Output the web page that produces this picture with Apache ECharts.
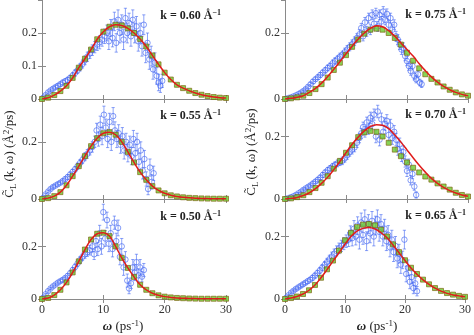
<!DOCTYPE html>
<html><head><meta charset="utf-8">
<script src="https://cdn.jsdelivr.net/npm/echarts@6/dist/echarts.min.js"></script>
<style>html,body{margin:0;padding:0;background:#fff}#c{width:474px;height:335px}</style>
</head><body><div id="c"></div>
<script>
// ---- data ----
const omegaGrid = [0,1,2,3,4,5,6,7,8,9,10,11,12,13,14,15,16,17,18,19,20,21,22,23,24,25,26,27,28,29,30];
const xTicks = [0,10,20,30];
const kLabels = ['0.60','0.55','0.50','0.75','0.70','0.65'];

// model values (squares) at omegaGrid
const fit60 = [0,0.004,0.012,0.024,0.04,0.064,0.095,0.122,0.15,0.181,0.204,0.219,0.225,0.223,0.214,0.2,0.182,0.159,0.132,0.105,0.08,0.059,0.043,0.033,0.025,0.018,0.013,0.009,0.006,0.004,0.003];
const fit55 = [0,0.003,0.01,0.024,0.048,0.08,0.115,0.15,0.185,0.213,0.23,0.234,0.225,0.2,0.165,0.128,0.094,0.067,0.045,0.03,0.02,0.013,0.009,0.006,0.004,0.003,0.002,0.0015,0.001,0.001,0.001];
const fit50 = [0,0.004,0.015,0.035,0.063,0.101,0.143,0.188,0.226,0.248,0.252,0.239,0.2,0.156,0.118,0.084,0.054,0.035,0.022,0.014,0.009,0.006,0.004,0.003,0.002,0.0015,0.001,0.001,0.001,0.001,0.001];
const green75 = [0,0.002,0.005,0.01,0.018,0.03,0.045,0.065,0.088,0.11,0.133,0.158,0.18,0.198,0.21,0.213,0.21,0.2,0.185,0.165,0.14,0.116,0.093,0.075,0.061,0.05,0.038,0.028,0.02,0.014,0.01];
const green70 = [0,0.002,0.006,0.012,0.022,0.035,0.052,0.073,0.097,0.122,0.148,0.172,0.198,0.213,0.218,0.215,0.2,0.18,0.158,0.137,0.117,0.1,0.085,0.072,0.062,0.05,0.04,0.03,0.02,0.013,0.008];
const green65 = [0,0.003,0.008,0.016,0.028,0.045,0.068,0.095,0.123,0.155,0.188,0.212,0.23,0.238,0.24,0.236,0.222,0.2,0.175,0.15,0.124,0.1,0.08,0.062,0.047,0.035,0.026,0.019,0.014,0.01,0.007];
// red curves (right panels)
const red75 = [0,0.002,0.005,0.01,0.02,0.032,0.048,0.068,0.09,0.113,0.137,0.16,0.182,0.2,0.214,0.222,0.219,0.207,0.19,0.17,0.15,0.13,0.107,0.086,0.067,0.051,0.038,0.028,0.02,0.014,0.01];
const red70 = [0,0.002,0.005,0.011,0.02,0.033,0.05,0.07,0.094,0.12,0.148,0.175,0.198,0.218,0.232,0.238,0.236,0.225,0.205,0.182,0.157,0.132,0.108,0.086,0.066,0.05,0.037,0.027,0.019,0.013,0.009];
const red65 = [0,0.003,0.008,0.016,0.028,0.045,0.068,0.094,0.121,0.148,0.175,0.2,0.217,0.226,0.229,0.224,0.212,0.196,0.173,0.148,0.123,0.099,0.079,0.061,0.047,0.035,0.025,0.018,0.013,0.01,0.007];

// measured points [omega, value, error]
const blue60 = [[0.2,0.004,0.002],[0.6,0.012,0.003],[1.0,0.02,0.004],[1.4,0.026,0.004],[1.8,0.031,0.005],[2.2,0.036,0.005],[2.6,0.04,0.006],[3.0,0.045,0.006],[3.4,0.05,0.007],[3.8,0.054,0.007],[4.2,0.058,0.008],[4.6,0.064,0.008],[5.0,0.071,0.009],[5.4,0.079,0.01],[5.8,0.087,0.01],[6.2,0.096,0.011],[6.6,0.106,0.012],[7.0,0.117,0.013],[7.4,0.128,0.014],[7.8,0.138,0.015],[8.2,0.148,0.016],[8.6,0.157,0.017],[9.0,0.165,0.018],[9.4,0.172,0.02],[9.8,0.18,0.02],[10.2,0.19,0.022],[10.6,0.2,0.024],[10.9,0.175,0.025],[11.2,0.215,0.026],[11.5,0.185,0.027],[11.8,0.235,0.028],[12.1,0.17,0.028],[12.4,0.24,0.03],[12.7,0.2,0.03],[13.0,0.225,0.03],[13.3,0.18,0.03],[13.6,0.245,0.03],[13.9,0.2,0.03],[14.2,0.23,0.03],[14.5,0.19,0.03],[14.8,0.24,0.03],[15.1,0.2,0.03],[15.4,0.22,0.03],[15.7,0.175,0.03],[16.0,0.2,0.03],[16.3,0.16,0.03],[16.6,0.225,0.03],[16.9,0.14,0.03],[17.2,0.17,0.03],[17.5,0.12,0.03],[17.8,0.13,0.03],[18.1,0.09,0.03],[18.4,0.11,0.03],[18.7,0.07,0.025],[19.0,0.05,0.025],[19.3,0.04,0.02],[19.6,0.055,0.02]];
const blue55 = [[0.2,0.004,0.002],[0.6,0.016,0.003],[1.0,0.026,0.004],[1.4,0.035,0.004],[1.8,0.042,0.005],[2.2,0.047,0.005],[2.6,0.052,0.006],[3.0,0.057,0.006],[3.4,0.063,0.007],[3.8,0.07,0.007],[4.2,0.077,0.008],[4.6,0.086,0.008],[5.0,0.095,0.009],[5.4,0.104,0.01],[5.8,0.115,0.011],[6.2,0.126,0.012],[6.6,0.137,0.013],[7.0,0.148,0.014],[7.4,0.158,0.015],[7.8,0.17,0.016],[8.2,0.182,0.018],[8.6,0.2,0.02],[8.9,0.24,0.025],[9.2,0.21,0.025],[9.5,0.26,0.03],[9.8,0.22,0.03],[10.1,0.295,0.03],[10.4,0.25,0.03],[10.7,0.21,0.03],[11.0,0.27,0.03],[11.3,0.2,0.03],[11.6,0.29,0.03],[11.9,0.24,0.03],[12.2,0.21,0.03],[12.5,0.23,0.03],[12.8,0.19,0.03],[13.1,0.22,0.03],[13.4,0.17,0.03],[13.7,0.2,0.03],[14.0,0.16,0.03],[14.3,0.19,0.03],[14.6,0.15,0.03],[14.9,0.21,0.03],[15.2,0.16,0.03],[15.5,0.2,0.03],[15.8,0.13,0.03],[16.1,0.17,0.03],[16.4,0.1,0.03],[16.7,0.14,0.03],[17.0,0.07,0.025],[17.3,0.035,0.02],[17.6,0.11,0.03],[17.9,0.06,0.025],[18.2,0.09,0.025]];
const blue50 = [[0.2,0.005,0.002],[0.6,0.018,0.003],[1.0,0.03,0.004],[1.4,0.04,0.004],[1.8,0.048,0.005],[2.2,0.055,0.005],[2.6,0.062,0.006],[3.0,0.068,0.006],[3.4,0.073,0.007],[3.8,0.08,0.007],[4.2,0.088,0.008],[4.6,0.098,0.009],[5.0,0.11,0.01],[5.4,0.122,0.011],[5.8,0.135,0.012],[6.2,0.148,0.013],[6.6,0.16,0.014],[7.0,0.17,0.015],[7.4,0.178,0.016],[7.8,0.185,0.018],[8.2,0.2,0.02],[8.5,0.17,0.02],[8.8,0.22,0.025],[9.1,0.19,0.025],[9.4,0.25,0.03],[9.7,0.2,0.03],[10.0,0.33,0.03],[10.3,0.23,0.03],[10.6,0.3,0.03],[10.9,0.21,0.03],[11.2,0.25,0.03],[11.5,0.19,0.03],[11.8,0.29,0.025],[12.1,0.22,0.03],[12.4,0.27,0.03],[12.7,0.16,0.03],[13.0,0.2,0.03],[13.3,0.12,0.03],[13.6,0.15,0.03],[13.9,0.07,0.025],[14.2,0.04,0.02],[14.5,0.06,0.02],[14.8,0.12,0.03],[15.1,0.1,0.03],[15.4,0.14,0.03],[15.7,0.09,0.025],[16.0,0.12,0.03],[16.3,0.085,0.02],[16.6,0.11,0.025]];
const blue75 = [[0.2,0.001,0.001],[0.6,0.003,0.002],[1.0,0.005,0.002],[1.4,0.008,0.002],[1.8,0.011,0.003],[2.2,0.015,0.003],[2.6,0.019,0.003],[3.0,0.024,0.004],[3.4,0.03,0.004],[3.8,0.037,0.005],[4.2,0.045,0.005],[4.6,0.053,0.006],[5.0,0.06,0.006],[5.4,0.066,0.007],[5.8,0.073,0.007],[6.2,0.08,0.008],[6.6,0.087,0.008],[7.0,0.094,0.009],[7.4,0.1,0.009],[7.8,0.108,0.01],[8.2,0.115,0.01],[8.6,0.121,0.01],[9.0,0.128,0.011],[9.4,0.134,0.011],[9.8,0.142,0.012],[10.2,0.15,0.012],[10.6,0.158,0.012],[11.0,0.166,0.013],[11.4,0.175,0.013],[11.8,0.185,0.013],[12.2,0.196,0.014],[12.5,0.215,0.014],[12.8,0.19,0.014],[13.1,0.232,0.015],[13.4,0.205,0.015],[13.7,0.245,0.015],[14.0,0.21,0.015],[14.3,0.255,0.015],[14.6,0.228,0.015],[14.9,0.26,0.015],[15.2,0.22,0.015],[15.5,0.255,0.015],[15.8,0.235,0.015],[16.1,0.265,0.015],[16.4,0.24,0.015],[16.7,0.258,0.015],[17.0,0.225,0.015],[17.3,0.245,0.015],[17.6,0.21,0.015],[17.9,0.225,0.015],[18.2,0.19,0.015],[18.5,0.18,0.015],[18.8,0.165,0.015],[19.1,0.15,0.015],[19.4,0.155,0.015],[19.7,0.13,0.014],[20.0,0.115,0.014],[20.3,0.1,0.013],[20.6,0.085,0.013],[20.9,0.1,0.012],[21.2,0.07,0.012],[21.5,0.06,0.011],[21.8,0.075,0.011],[22.1,0.05,0.01],[22.4,0.045,0.01]];
const blue70 = [[0.2,0.001,0.001],[0.6,0.003,0.002],[1.0,0.006,0.002],[1.4,0.009,0.002],[1.8,0.013,0.003],[2.2,0.018,0.003],[2.6,0.023,0.003],[3.0,0.029,0.004],[3.4,0.034,0.004],[3.8,0.039,0.005],[4.2,0.044,0.005],[4.6,0.05,0.006],[5.0,0.056,0.006],[5.4,0.062,0.007],[5.8,0.069,0.007],[6.2,0.077,0.008],[6.6,0.085,0.008],[7.0,0.092,0.009],[7.4,0.098,0.009],[7.8,0.104,0.01],[8.2,0.109,0.01],[8.6,0.114,0.011],[9.0,0.118,0.011],[9.4,0.122,0.012],[9.8,0.13,0.012],[10.2,0.14,0.013],[10.6,0.15,0.013],[11.0,0.158,0.014],[11.4,0.165,0.014],[11.8,0.18,0.015],[12.2,0.195,0.015],[12.5,0.21,0.016],[12.8,0.23,0.016],[13.1,0.215,0.017],[13.4,0.245,0.017],[13.7,0.225,0.018],[14.0,0.26,0.018],[14.3,0.24,0.018],[14.6,0.27,0.018],[14.9,0.2,0.02],[15.2,0.28,0.02],[15.5,0.19,0.02],[15.8,0.255,0.02],[16.1,0.215,0.02],[16.4,0.24,0.02],[16.7,0.25,0.02],[17.0,0.205,0.02],[17.3,0.235,0.02],[17.6,0.195,0.02],[17.9,0.215,0.02],[18.2,0.19,0.02],[18.5,0.16,0.02],[18.8,0.175,0.02],[19.1,0.14,0.02],[19.4,0.15,0.02],[19.7,0.12,0.018],[20.0,0.09,0.018],[20.3,0.11,0.018],[20.6,0.06,0.015],[20.9,0.08,0.015],[21.2,0.04,0.012],[21.5,0.013,0.01]];
const blue65 = [[0.2,0.004,0.002],[0.6,0.012,0.003],[1.0,0.02,0.003],[1.4,0.026,0.004],[1.8,0.032,0.004],[2.2,0.037,0.005],[2.6,0.042,0.005],[3.0,0.047,0.006],[3.4,0.052,0.006],[3.8,0.057,0.007],[4.2,0.062,0.007],[4.6,0.068,0.008],[5.0,0.075,0.008],[5.4,0.083,0.009],[5.8,0.091,0.01],[6.2,0.1,0.01],[6.6,0.109,0.011],[7.0,0.118,0.012],[7.4,0.127,0.013],[7.8,0.136,0.014],[8.2,0.145,0.015],[8.6,0.154,0.016],[9.0,0.162,0.017],[9.4,0.17,0.018],[9.8,0.177,0.019],[10.2,0.185,0.02],[10.6,0.19,0.022],[10.9,0.21,0.024],[11.2,0.195,0.025],[11.5,0.225,0.026],[11.8,0.2,0.027],[12.1,0.235,0.028],[12.4,0.19,0.03],[12.7,0.245,0.03],[13.0,0.205,0.03],[13.3,0.255,0.03],[13.6,0.185,0.03],[13.9,0.24,0.03],[14.2,0.21,0.03],[14.5,0.25,0.03],[14.8,0.2,0.03],[15.1,0.235,0.03],[15.4,0.255,0.03],[15.7,0.215,0.03],[16.0,0.24,0.03],[16.3,0.2,0.03],[16.6,0.225,0.03],[16.9,0.185,0.03],[17.2,0.205,0.03],[17.5,0.165,0.03],[17.8,0.19,0.03],[18.1,0.15,0.03],[18.4,0.17,0.03],[18.7,0.13,0.03],[19.0,0.145,0.03],[19.3,0.11,0.028],[19.6,0.125,0.028],[19.9,0.19,0.03],[20.2,0.08,0.025],[20.5,0.1,0.025],[20.8,0.055,0.022],[21.1,0.07,0.02],[21.4,0.035,0.018],[21.7,0.05,0.018],[22.0,0.025,0.015]];

// ---- layout / style ----
const FONT = '"Liberation Serif","DejaVu Serif",serif';
const BLUE = '#3f63f2', AXC = '#8a8a8a', TXT = '#333';
const panels = [
  {blue: blue60, sq: fit60, red: fit60, ymax: 0.3,  yint: 0.1, g:{left:42, top:0,   width:184, height:99},  lab:[221,16],  bottom:false},
  {blue: blue55, sq: fit55, red: fit55, ymax: 0.35, yint: 0.2, g:{left:42, top:99,  width:184, height:100}, lab:[221,116], bottom:false},
  {blue: blue50, sq: fit50, red: fit50, ymax: 0.38, yint: 0.2, g:{left:42, top:199, width:184, height:100}, lab:[221,217], bottom:true},
  {blue: blue75, sq: green75, red: red75, ymax: 0.3,  yint: 0.2, g:{left:285, top:0,   width:183, height:99},  lab:[466,15],  bottom:false},
  {blue: blue70, sq: green70, red: red70, ymax: 0.32, yint: 0.2, g:{left:285, top:99,  width:183, height:100}, lab:[466,115], bottom:false},
  {blue: blue65, sq: green65, red: red65, ymax: 0.32, yint: 0.2, g:{left:285, top:199, width:183, height:100}, lab:[466,216], bottom:true}
];

const grid = [], xAxis = [], yAxis = [], series = [], graphic = [];
const axLine = {show:true, lineStyle:{color:AXC, width:1}};
const tick = {show:true, inside:true, length:4, lineStyle:{color:AXC}};

function errRender(params, api) {
  const x = api.value(0), y = api.value(1), e = api.value(2);
  const t = api.coord([x, y + e]), b = api.coord([x, y - e]);
  const w = 1.6, st = {stroke: BLUE, lineWidth: 0.7, opacity: 0.85};
  return {type:'group', children:[
    {type:'line', shape:{x1:t[0], y1:t[1], x2:b[0], y2:b[1]}, style:st},
    {type:'line', shape:{x1:t[0]-w, y1:t[1], x2:t[0]+w, y2:t[1]}, style:st},
    {type:'line', shape:{x1:b[0]-w, y1:b[1], x2:b[0]+w, y2:b[1]}, style:st}
  ]};
}

panels.forEach((p, i) => {
  grid.push(Object.assign({containLabel:false}, p.g));
  xAxis.push({type:'value', gridIndex:i, min:xTicks[0], max:xTicks[xTicks.length-1], interval:xTicks[1]-xTicks[0], position:'bottom',
    axisLine:axLine, axisTick:tick, splitLine:{show:false},
    axisLabel:{show:p.bottom, margin:5, fontFamily:FONT, fontSize:12, color:TXT}});
  xAxis.push({type:'value', gridIndex:i, min:xTicks[0], max:xTicks[xTicks.length-1], interval:xTicks[1]-xTicks[0], position:'top',
    axisLine:axLine, axisTick:tick, splitLine:{show:false}, axisLabel:{show:false}});
  yAxis.push({type:'value', gridIndex:i, min:0, max:p.ymax, interval:p.yint, position:'left',
    axisLine:axLine, axisTick:tick, splitLine:{show:false},
    axisLabel:{show:true, showMaxLabel:false, margin:5, fontFamily:FONT, fontSize:12, color:TXT}});
  yAxis.push({type:'value', gridIndex:i, min:0, max:p.ymax, interval:p.yint, position:'right',
    axisLine:axLine, axisTick:tick, splitLine:{show:false}, axisLabel:{show:false}});
  const xi = 2*i, yi = 2*i;
  series.push({type:'custom', xAxisIndex:xi, yAxisIndex:yi, renderItem:errRender, data:p.blue, encode:{x:0, y:1}, z:1, clip:true, silent:true});
  series.push({type:'scatter', xAxisIndex:xi, yAxisIndex:yi, data:p.blue.map(d => [d[0], d[1]]), symbol:'circle', symbolSize:5.5,
    itemStyle:{color:'rgba(0,0,0,0)', borderColor:BLUE, borderWidth:0.8}, z:2, silent:true});
  series.push({type:'scatter', xAxisIndex:xi, yAxisIndex:yi, data:omegaGrid.map((w, j) => [w, p.sq[j]]), symbol:'rect', symbolSize:5,
    itemStyle:{color:'#6cc92a', borderColor:'#7a5a08', borderWidth:0.8}, z:3, silent:true});
  series.push({type:'line', xAxisIndex:xi, yAxisIndex:yi, data:omegaGrid.map((w, j) => [w, p.red[j]]), smooth:0.4, showSymbol:false,
    lineStyle:{color:'#e01b1b', width:1.5}, z:4, silent:true});
  graphic.push({type:'text', x:p.lab[0], y:p.lab[1], z:10, style:{
    text:'{a|k = ' + kLabels[i] + ' Å}{s|−1}', align:'right', verticalAlign:'middle', textAlign:'right', textVerticalAlign:'middle',
    rich:{a:{fontFamily:FONT, fontSize:12, fontWeight:'bold', fill:'#222', color:'#222', lineHeight:14},
          s:{fontFamily:FONT, fontSize:8, fontWeight:'bold', fill:'#222', color:'#222', verticalAlign:'top', lineHeight:9}}}});
});

const yTitle = '{c|C\u0303}{l|L}{a|(k, ω) (Å}{p|2}{a|/ps)}';
const yRich = {
  c:{fontFamily:FONT, fontSize:13, fill:'#222', color:'#222', lineHeight:16},
  l:{fontFamily:FONT, fontSize:9, fill:'#222', color:'#222', verticalAlign:'bottom', lineHeight:10, padding:[0,2,0,0]},
  a:{fontFamily:FONT, fontSize:13, fill:'#222', color:'#222', lineHeight:16},
  p:{fontFamily:FONT, fontSize:9, fill:'#222', color:'#222', verticalAlign:'top', lineHeight:10}
};
[[10,154],[252,152]].forEach(pos => {
  graphic.push({type:'text', x:pos[0], y:pos[1], rotation:Math.PI/2, z:10,
    style:{text:yTitle, rich:yRich, align:'center', verticalAlign:'middle', textAlign:'center', textVerticalAlign:'middle'}});
});
const xTitle = '{w|ω} {a|(ps}{p|-1}{a|)}';
const xRich = {
  w:{fontFamily:FONT, fontSize:13, fontStyle:'italic', fontWeight:'bold', fill:'#222', color:'#222', lineHeight:16},
  a:{fontFamily:FONT, fontSize:13, fill:'#222', color:'#222', lineHeight:16},
  p:{fontFamily:FONT, fontSize:9, fill:'#222', color:'#222', verticalAlign:'top', lineHeight:10}
};
[[123,327],[377,327]].forEach(pos => {
  graphic.push({type:'text', x:pos[0], y:pos[1], z:10,
    style:{text:xTitle, rich:xRich, align:'center', verticalAlign:'middle', textAlign:'center', textVerticalAlign:'middle'}});
});

const chart = echarts.init(document.getElementById('c'), null, {renderer:'canvas'});
chart.setOption({animation:false, backgroundColor:'#fff', grid, xAxis, yAxis, series, graphic});
</script></body></html>
